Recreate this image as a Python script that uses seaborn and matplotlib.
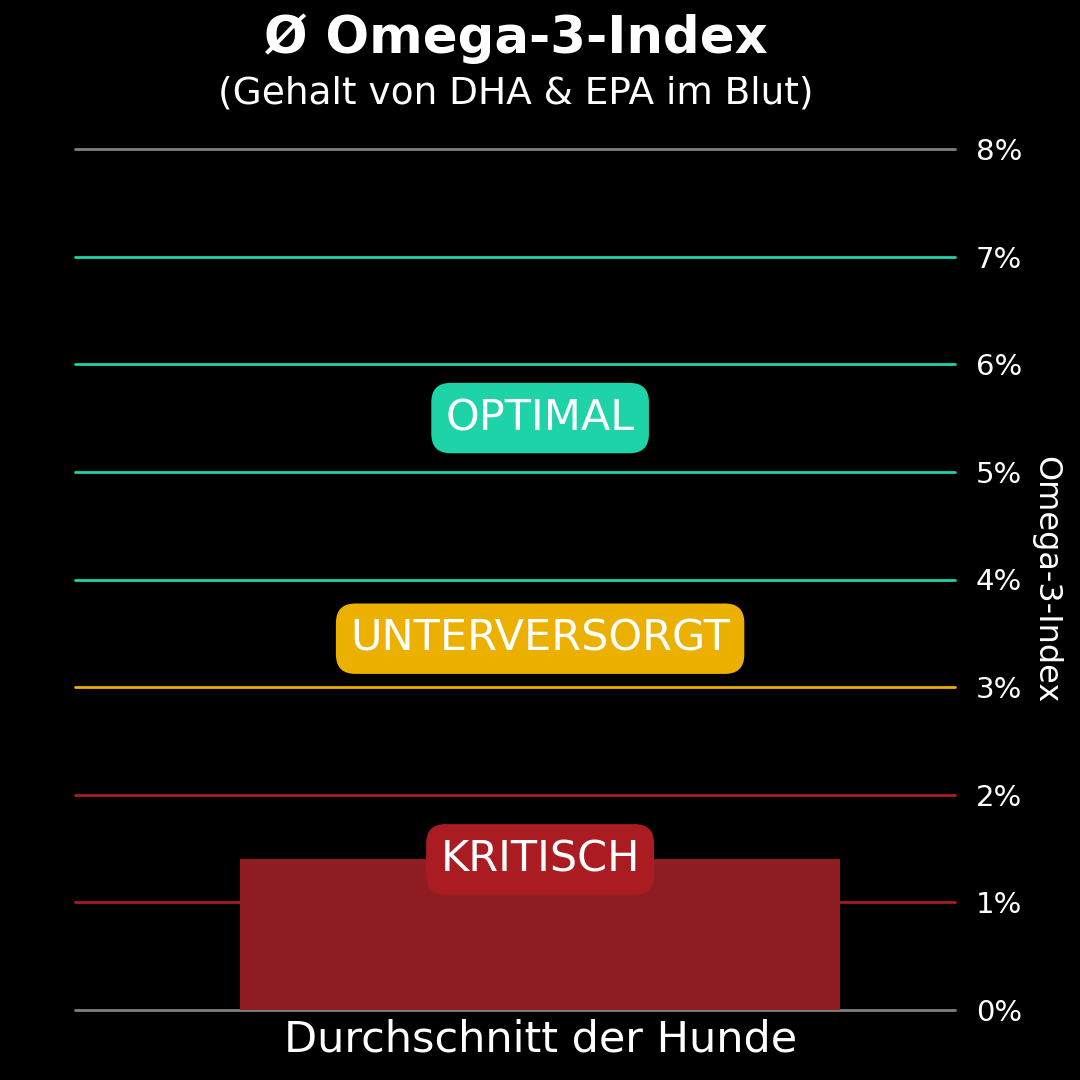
import matplotlib
matplotlib.use("Agg")
import matplotlib.pyplot as plt
import seaborn as sns
import pandas as pd

# data
categories = ["Durchschnitt der Hunde"]
values = [1.4]
levels = [0, 1, 2, 3, 4, 5, 6, 7, 8]
tick_labels = ["0%", "1%", "2%", "3%", "4%", "5%", "6%", "7%", "8%"]
zone_names = ["KRITISCH", "UNTERVERSORGT", "OPTIMAL"]
zone_pos = [1.4, 3.45, 5.5]

GREY = "#808080"
RED_LINE = "#a81c22"
ORANGE = "#ebb000"
TEAL = "#1dd3a7"
line_colors = [GREY, RED_LINE, RED_LINE, ORANGE, TEAL, TEAL, TEAL, TEAL, GREY]
zone_colors = ["#aa1c22", ORANGE, TEAL]

sns.set_style("dark", {"axes.facecolor": "black", "figure.facecolor": "black"})
plt.rcParams['font.family'] = ['DejaVu Sans']

fig = plt.figure(figsize=(10.8, 10.8), dpi=100)
ax = fig.add_axes([75/1080, 70/1080, 880/1080, 861/1080])

for lv, c in zip(levels, line_colors):
    ax.axhline(lv, color=c, lw=2, zorder=1, clip_on=False)

df = pd.DataFrame({"cat": categories, "val": values})
sns.barplot(data=df, x="cat", y="val", color="#8f1d22", width=0.8,
            saturation=1, linewidth=0, edgecolor="none", ax=ax, zorder=2)

for name, y, c in zip(zone_names, zone_pos, zone_colors):
    ax.text(0, y, name, ha="center", va="center", color="white", fontsize=31,
            zorder=5, bbox=dict(boxstyle="round,pad=0.33,rounding_size=0.45",
                                fc=c, ec="none"))

ax.set_ylim(0, 8)
ax.set_xlim(-0.62, 0.553)
ax.yaxis.tick_right()
ax.set_yticks(levels)
ax.set_yticklabels(tick_labels, color="white", fontsize=21)
ax.tick_params(axis="y", length=0, pad=15)
ax.tick_params(axis="x", length=0, pad=6, labelsize=31, labelcolor="white")
ax.set_xlabel("")
ax.yaxis.set_label_position("right")
ax.set_ylabel("Omega-3-Index", color="white", fontsize=23, rotation=270,
              labelpad=28)
ax.grid(False)
for s in ax.spines.values():
    s.set_visible(False)

fig.text(0.478, 0.964, "Ø Omega-3-Index", ha="center", va="center",
         color="white", fontsize=37, fontweight="bold")
fig.text(0.478, 0.913, "(Gehalt von DHA & EPA im Blut)", ha="center",
         va="center", color="white", fontsize=27)

fig.savefig("out.png", dpi=100, facecolor="black")
